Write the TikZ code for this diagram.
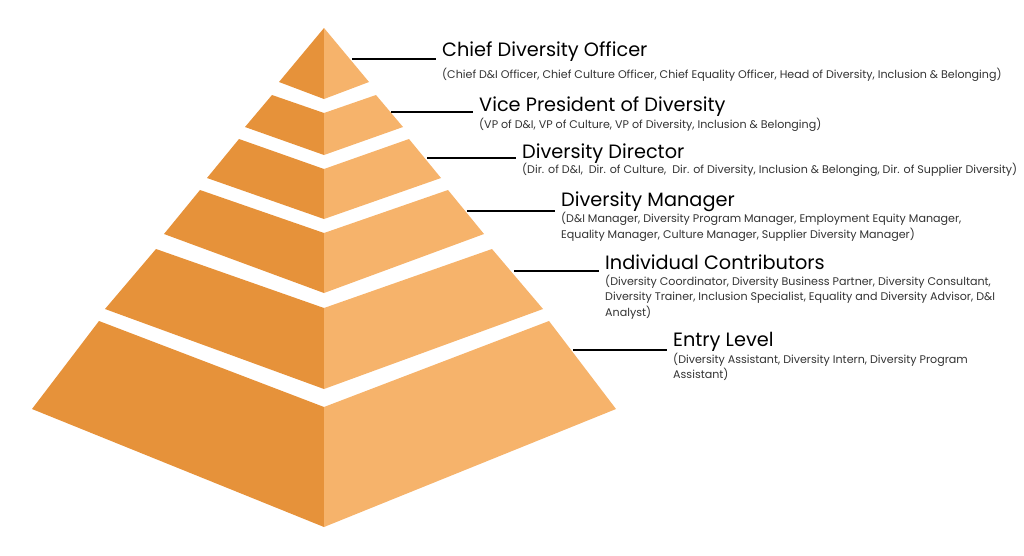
\documentclass[tikz,border=0pt]{standalone}
\usepackage{fontspec}
\setmainfont{Poppins}
\usetikzlibrary{positioning}
\definecolor{darkorange}{HTML}{E6923A}
\definecolor{lightorange}{HTML}{F6B36B}
\tikzset{
	rank/.style={
		font=\fontsize{19.3}{23}\selectfont,
		text=black,
		anchor=base west,
		inner sep=0pt,
	},
	roles/.style={
		font=\fontsize{11.1}{15.5}\selectfont,
		text=black!80,
		anchor=base west,
		align=left,
		inner sep=0pt,
	},
	leader/.style={draw=black, line width=1.8pt, shorten >=6pt},
}

\begin{document}
\begin{tikzpicture}[x=1pt,y=-1pt]
        \useasboundingbox (0,0) rectangle (1024,555);
        % tiers: top corner y / half width / top centre y / bottom corner y / half width / bottom centre y
        \foreach \tc/\wt/\tm/\bc/\wb/\bm in {28/0/28/82/45/99, 95/52/113/127/79/155, 139/85/169/178/117/219,
                190/124/233/234/160/293, 249/168/308/309/219/389, 321/225/407/409/292/527} {
            \fill[darkorange] (324-\wt,\tc) -- (324,\tm) -- (324,\bm) -- (324-\wb,\bc) -- cycle;
            \fill[lightorange] (324+\wt,\tc) -- (324,\tm) -- (324,\bm) -- (324+\wb,\bc) -- cycle;
        }
        \coordinate (E1) at (352,59);
        \coordinate (E2) at (391,111.7);
        \coordinate (E3) at (427,158);
        \coordinate (E4) at (467,210.7);
        \coordinate (E5) at (514,270.7);
        \coordinate (E6) at (573,350);

        % roles: multi-line texts sit on the baseline of their last line
        \node[rank] (R1) at (442,56.7) {Chief Diversity Officer};
        \node[roles] (S1) at (442,78.3) {(Chief D\&I Officer, Chief Culture Officer, Chief Equality Officer, Head of Diversity, Inclusion \& Belonging)};
        \node[rank] (R2) at (479,111) {Vice President of Diversity};
        \node[roles] (S2) at (479,128) {(VP of D\&I, VP of Culture, VP of Diversity, Inclusion \& Belonging)};
        \node[rank] (R3) at (522,158) {Diversity Director};
        \node[roles] (S3) at (522,173) {(Dir. of D\&I,\ \ Dir. of Culture,\ \ Dir. of Diversity, Inclusion \& Belonging, Dir. of Supplier Diversity)};
        \node[rank] (R4) at (561,206.7) {Diversity Manager};
        \node[roles] (S4) at (561,238.2) {(D\&I Manager, Diversity Program Manager, Employment Equity Manager,\\ Equality Manager, Culture Manager, Supplier Diversity Manager)};
        \node[rank] (R5) at (605,269.3) {Individual Contributors};
        \node[roles] (S5) at (605,316.3) {(Diversity Coordinator, Diversity Business Partner, Diversity Consultant,\\ Diversity Trainer, Inclusion Specialist, Equality and Diversity Advisor, D\&I\\ Analyst)};
        \node[rank] (R6) at (673,346.7) {Entry Level};
        \node[roles] (S6) at (673,378.8) {(Diversity Assistant, Diversity Intern, Diversity Program\\ Assistant)};

        \path[leader] (E1) edge (E1 -| R1.west)
        (E2) edge (E2 -| R2.west)
        (E3) edge (E3 -| R3.west)
        (E4) edge (E4 -| R4.west)
        (E5) edge (E5 -| R5.west)
        (E6) edge (E6 -| R6.west);
    \end{tikzpicture}
\end{document}
